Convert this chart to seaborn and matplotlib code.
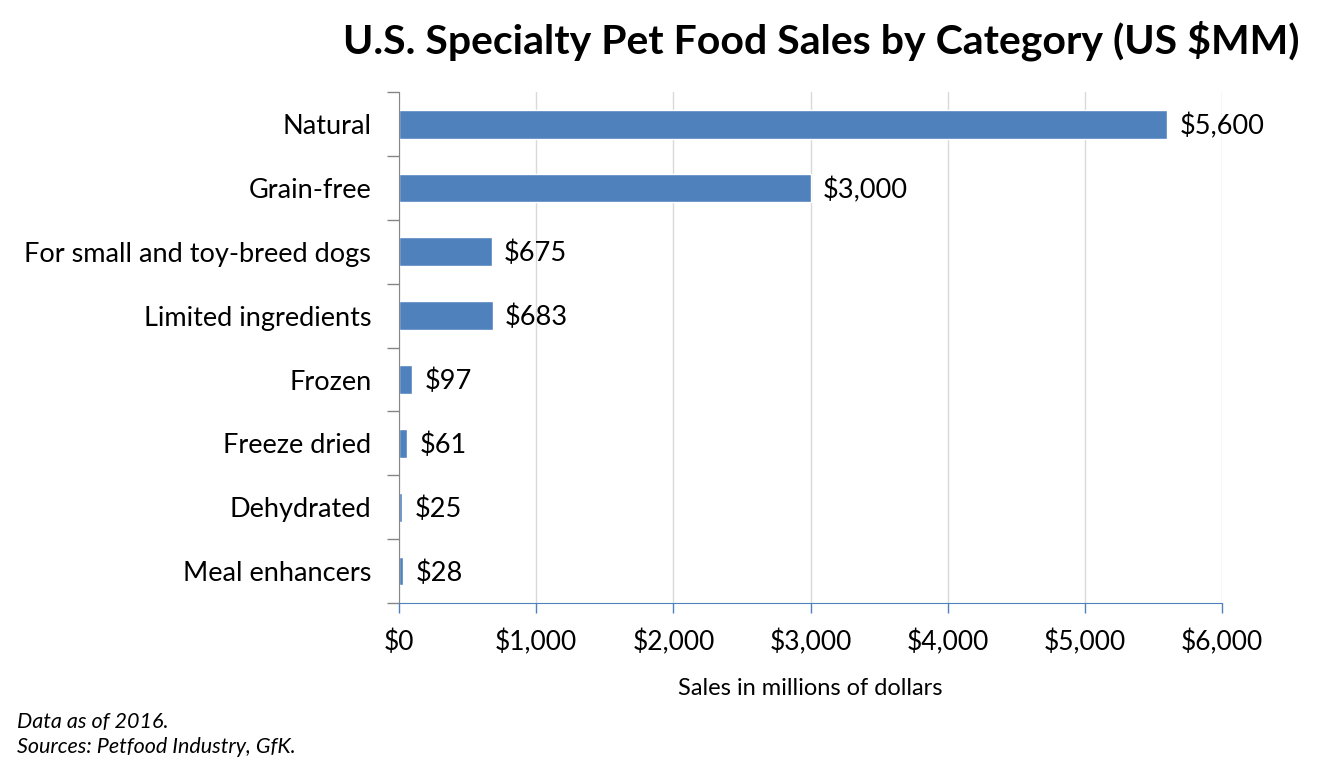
import numpy as np
import pandas as pd
import seaborn as sns
import matplotlib.pyplot as plt

# chart data
categories = ['Natural', 'Grain-free', 'For small and toy-breed dogs', 'Limited ingredients',
              'Frozen', 'Freeze dried', 'Dehydrated', 'Meal enhancers']
sales = [5600, 3000, 675, 683, 97, 61, 25, 28]
x_ticks = [0, 1000, 2000, 3000, 4000, 5000, 6000]

df = pd.DataFrame({'Category': categories, 'Sales': sales})

sns.set_style('white')
plt.rcParams['font.family'] = ['Lato', 'DejaVu Sans']
plt.rcParams['text.color'] = 'black'
plt.rcParams['axes.labelcolor'] = 'black'
plt.rcParams['xtick.labelcolor'] = 'black'
plt.rcParams['ytick.labelcolor'] = 'black'

fig = plt.figure(figsize=(13.17, 7.75), dpi=100)
ax = fig.add_axes([0.303, 0.222, 0.625, 0.659])

sns.barplot(data=df, y='Category', x='Sales', orient='h', color='#4F81BD',
            saturation=1, width=0.45, ax=ax)

# value labels
for i, v in enumerate(sales):
    ax.text(v + 90, i + 0.03, '${:,}'.format(v), va='center', ha='left', fontsize=19.5)

ax.set_xlim(0, 6000)
ax.set_ylim(len(categories) - 0.5, -0.5)
ax.set_xticks(x_ticks)
ax.set_xticklabels(['${:,}'.format(t) for t in x_ticks], fontsize=19)
ax.tick_params(axis='x', bottom=True, length=7, width=1, color='#4F81BD', pad=12, direction='out')

# y ticks between categories
ax.set_yticks(range(len(categories)))
ax.set_yticklabels(categories, fontsize=19.5)
ax.set_yticks(np.arange(-0.5, len(categories), 1), minor=True)
ax.tick_params(axis='y', which='major', left=False, length=0, pad=20)
ax.tick_params(axis='y', which='minor', left=True, length=9, width=1, color='#868686', direction='out')

ax.grid(axis='x', color='#D9D9D9', linewidth=1)
ax.set_axisbelow(True)
for s in ['top', 'right']:
    ax.spines[s].set_visible(False)
ax.spines['left'].set_color('#868686')
ax.spines['bottom'].set_color('#4F81BD')

ax.set_ylabel('')
ax.set_xlabel('Sales in millions of dollars', fontsize=17, labelpad=16)

fig.text(0.987, 0.948, 'U.S. Specialty Pet Food Sales by Category (US $MM)',
         ha='right', va='center', fontsize=29.5, fontweight='bold')
fig.text(0.013, 0.069, 'Data as of 2016.', ha='left', va='center', fontsize=15.5, style='italic')
fig.text(0.013, 0.036, 'Sources: Petfood Industry, GfK.', ha='left', va='center', fontsize=15.5, style='italic')

fig.savefig('out.png', dpi=100)
